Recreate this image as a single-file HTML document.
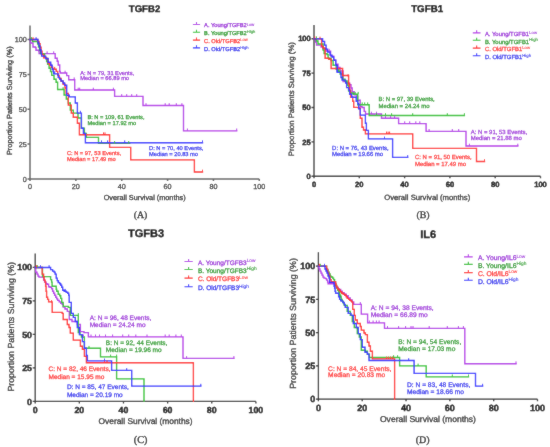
<!DOCTYPE html>
<html><head><meta charset="utf-8"><style>
html,body{margin:0;padding:0;background:#fff;}
svg{display:block;will-change:transform;}
svg text{font-family:"Liberation Sans",sans-serif;text-rendering:geometricPrecision;}
</style></head><body>
<svg width="550" height="447" viewBox="0 0 550 447">
<defs><filter id="bl" x="0" y="0" width="550" height="447" filterUnits="userSpaceOnUse"><feConvolveMatrix order="3" kernelMatrix="1 2 1 2 32.0 2 1 2 1" divisor="44.0" edgeMode="duplicate"/></filter></defs>
<rect width="550" height="447" fill="#fff"/>
<g filter="url(#bl)"><rect width="550" height="447" fill="#fff"/>
<path d="M30.0 25.5V179.0H259.3M30.00 179.0v2M75.86 179.0v2M121.72 179.0v2M167.58 179.0v2M213.44 179.0v2M259.30 179.0v2M30.0 179.00h-2.5M30.0 144.12h-2.5M30.0 109.25h-2.5M30.0 74.38h-2.5M30.0 39.50h-2.5" fill="none" stroke="#666" stroke-width="1.5"/>
<text x="30.00" y="188.60" font-size="7.2" fill="#333" text-anchor="middle" font-weight="normal" style="font-family:&quot;Liberation Sans&quot;"  stroke="#333" stroke-width="0.25">0</text>
<text x="75.86" y="188.60" font-size="7.2" fill="#333" text-anchor="middle" font-weight="normal" style="font-family:&quot;Liberation Sans&quot;"  stroke="#333" stroke-width="0.25">20</text>
<text x="121.72" y="188.60" font-size="7.2" fill="#333" text-anchor="middle" font-weight="normal" style="font-family:&quot;Liberation Sans&quot;"  stroke="#333" stroke-width="0.25">40</text>
<text x="167.58" y="188.60" font-size="7.2" fill="#333" text-anchor="middle" font-weight="normal" style="font-family:&quot;Liberation Sans&quot;"  stroke="#333" stroke-width="0.25">60</text>
<text x="213.44" y="188.60" font-size="7.2" fill="#333" text-anchor="middle" font-weight="normal" style="font-family:&quot;Liberation Sans&quot;"  stroke="#333" stroke-width="0.25">80</text>
<text x="259.30" y="188.60" font-size="7.2" fill="#333" text-anchor="middle" font-weight="normal" style="font-family:&quot;Liberation Sans&quot;"  stroke="#333" stroke-width="0.25">100</text>
<text x="26.80" y="181.59" font-size="7.2" fill="#333" text-anchor="end" font-weight="normal" style="font-family:&quot;Liberation Sans&quot;"  stroke="#333" stroke-width="0.25">0</text>
<text x="26.80" y="146.72" font-size="7.2" fill="#333" text-anchor="end" font-weight="normal" style="font-family:&quot;Liberation Sans&quot;"  stroke="#333" stroke-width="0.25">25</text>
<text x="26.80" y="111.84" font-size="7.2" fill="#333" text-anchor="end" font-weight="normal" style="font-family:&quot;Liberation Sans&quot;"  stroke="#333" stroke-width="0.25">50</text>
<text x="26.80" y="76.97" font-size="7.2" fill="#333" text-anchor="end" font-weight="normal" style="font-family:&quot;Liberation Sans&quot;"  stroke="#333" stroke-width="0.25">75</text>
<text x="26.80" y="42.09" font-size="7.2" fill="#333" text-anchor="end" font-weight="normal" style="font-family:&quot;Liberation Sans&quot;"  stroke="#333" stroke-width="0.25">100</text>
<text x="144.65" y="200.20" font-size="7.3" fill="#2a2a2a" text-anchor="middle" font-weight="normal" style="font-family:&quot;Liberation Sans&quot;"  stroke="#2a2a2a" stroke-width="0.28">Overall Survival (months)</text>
<text x="11.70" y="100.70" font-size="7.4" fill="#2a2a2a" text-anchor="middle" font-weight="normal" style="font-family:&quot;Liberation Sans&quot;" transform="rotate(-90 11.7 100.7)" stroke="#2a2a2a" stroke-width="0.28">Proportion Patients Surviving (%)</text>
<text x="144.50" y="12.20" font-size="9.6" fill="#000" text-anchor="middle" font-weight="bold" style="font-family:&quot;Liberation Sans&quot;"  stroke="#000" stroke-width="0.3">TGFB2</text>
<text x="140.50" y="217.70" font-size="9.9" fill="#1a1a1a" text-anchor="middle" font-weight="normal" style="font-family:&quot;Liberation Serif&quot;"  stroke="#1a1a1a" stroke-width="0.3">(A)</text>
<path d="M192.9 24.5H200.1M196.5 24.5V21.9" stroke="#b638e8" stroke-width="1.1" fill="none"/>
<text x="204.1" y="27.40" font-size="5.7" fill="#9b30d8" font-family="Liberation Sans" stroke="#9b30d8" stroke-width="0.28">A. Young/TGFB2<tspan font-size="4.10" dy="-1.80" stroke-width="0.1">Low</tspan></text>
<path d="M192.9 32.3H200.1M196.5 32.3V29.699999999999996" stroke="#2ec22e" stroke-width="1.1" fill="none"/>
<text x="204.1" y="35.20" font-size="5.7" fill="#2a9a2a" font-family="Liberation Sans" stroke="#2a9a2a" stroke-width="0.28">B. Young/TGFB2<tspan font-size="4.10" dy="-1.80" stroke-width="0.1">High</tspan></text>
<path d="M192.9 40.1H200.1M196.5 40.1V37.5" stroke="#ff2a2a" stroke-width="1.1" fill="none"/>
<text x="204.1" y="43.00" font-size="5.7" fill="#ff3030" font-family="Liberation Sans" stroke="#ff3030" stroke-width="0.28">C. Old/TGFB2<tspan font-size="4.10" dy="-1.80" stroke-width="0.1">Low</tspan></text>
<path d="M192.9 47.9H200.1M196.5 47.9V45.3" stroke="#3030ff" stroke-width="1.1" fill="none"/>
<text x="204.1" y="50.80" font-size="5.7" fill="#3030ee" font-family="Liberation Sans" stroke="#3030ee" stroke-width="0.28">D. Old/TGFB2<tspan font-size="4.10" dy="-1.80" stroke-width="0.1">High</tspan></text>
<path d="M30.0 39.5H30.5V43.0H33.0V47.0H35.5V47.6H36.0V50.2H38.6V50.7H39.1V53.6H55.2V58.2H57.2V61.2H58.2V65.0H59.7V71.3H60.2V73.0H66.7V75.6H68.7V79.7H74.7V90.0H114.6V96.4H143.0V105.5H183.5V130.8H236.7" fill="none" stroke="#b638e8" stroke-width="1.35" stroke-linejoin="miter" stroke-linecap="square"/>
<path d="M30.0 39.5H32.5V41.5H37.6V44.0H38.5V47.0H39.5V50.0H40.5V53.6H44.6V56.7H45.6V58.5H46.6V61.5H47.6V64.2H49.1V68.2H50.5V71.5H51.7V75.3H54.0V79.2H56.1V82.2H57.6V89.5H64.1V95.0H66.3V99.0H68.3V103.0H70.3V110.1H73.3V113.1H78.0V118.0H81.4V128.2H84.4V133.3H86.4V137.3H98.5V143.3H129.7" fill="none" stroke="#2ec22e" stroke-width="1.35" stroke-linejoin="miter" stroke-linecap="square"/>
<path d="M30.0 39.5H37.6V41.5H39.1V43.6H40.1V47.1H41.1V51.1H42.1V54.6H43.6V57.7H46.6V58.7H48.1V63.2H49.7V65.2H51.2V67.2H52.7V69.2H55.2H56.2V71.3H57.7V75.3H59.2V78.3H61.1V81.2H63.1V84.2H65.0V88.0H66.1V93.3H68.3V105.1H71.3V113.1H73.3V117.2H77.4V123.2H79.4V134.7H109.6V147.4H130.7V159.9H194.4V172.0H202.5" fill="none" stroke="#ff2a2a" stroke-width="1.35" stroke-linejoin="miter" stroke-linecap="square"/>
<path d="M30.0 39.5H37.1H38.0V43.0H39.0V46.0H40.0V50.0H41.1V53.6H41.6V56.1H44.1H45.6V58.5H48.1V62.2H50.7V65.2H52.2V69.2H53.2V71.3H53.7V73.8H57.2H58.2V77.3H59.7V79.3H61.0V81.0H63.0V83.0H64.6V85.2H66.7V95.3H69.2V96.8H75.3V103.0H77.4V113.1H81.4V128.2H83.4V133.3H85.4V142.7H202.5" fill="none" stroke="#3030ff" stroke-width="1.35" stroke-linejoin="miter" stroke-linecap="square"/>
<path d="M47.1 53.6V51.3M53.7 53.6V51.3M65.1 73.0V70.7M74.2 79.7V77.4M78.2 90.0V87.7M79.7 90.0V87.7M93.3 90.0V87.7M113.4 90.0V87.7M121.7 96.4V94.1M126.7 96.4V94.1M131.7 96.4V94.1M136.7 96.4V94.1M146.0 105.5V103.2M165.2 105.5V103.2M169.2 105.5V103.2M176.3 105.5V103.2M181.9 105.5V103.2M187.4 130.8V128.5M236.7 130.8V128.5" fill="none" stroke="#b638e8" stroke-width="1.0"/>
<path d="M31.5 39.5V37.2M63.1 89.5V87.2M101.5 143.3V141.0M114.6 143.3V141.0M128.7 143.3V141.0" fill="none" stroke="#2ec22e" stroke-width="1.0"/>
<path d="M33.0 39.5V37.2M54.7 69.2V66.9M103.5 134.7V132.4M105.0 134.7V132.4M202.5 172.0V169.7" fill="none" stroke="#ff2a2a" stroke-width="1.0"/>
<path d="M36.1 39.5V37.2M50.7 65.2V62.9M54.7 73.8V71.5M69.2 96.8V94.5M80.4 113.1V110.8M101.5 142.7V140.4M107.6 142.7V140.4M124.7 142.7V140.4M202.5 142.7V140.4" fill="none" stroke="#3030ff" stroke-width="1.0"/>
<text x="80.20" y="74.60" font-size="5.7" fill="#9b30d8" text-anchor="start" font-weight="normal" style="font-family:&quot;Liberation Sans&quot;"  stroke="#9b30d8" stroke-width="0.25">A: N = 79, 31 Events,</text>
<text x="80.20" y="80.30" font-size="5.7" fill="#9b30d8" text-anchor="start" font-weight="normal" style="font-family:&quot;Liberation Sans&quot;"  stroke="#9b30d8" stroke-width="0.25">Median = 66.89 mo</text>
<text x="87.40" y="118.80" font-size="5.7" fill="#2a9a2a" text-anchor="start" font-weight="normal" style="font-family:&quot;Liberation Sans&quot;"  stroke="#2a9a2a" stroke-width="0.25">B: N = 109, 61 Events,</text>
<text x="87.40" y="124.80" font-size="5.7" fill="#2a9a2a" text-anchor="start" font-weight="normal" style="font-family:&quot;Liberation Sans&quot;"  stroke="#2a9a2a" stroke-width="0.25">Median = 17.92 mo</text>
<text x="66.90" y="155.00" font-size="5.7" fill="#ff3030" text-anchor="start" font-weight="normal" style="font-family:&quot;Liberation Sans&quot;"  stroke="#ff3030" stroke-width="0.25">C: N = 97, 53 Events,</text>
<text x="66.90" y="161.00" font-size="5.7" fill="#ff3030" text-anchor="start" font-weight="normal" style="font-family:&quot;Liberation Sans&quot;"  stroke="#ff3030" stroke-width="0.25">Median = 17.49 mo</text>
<text x="149.10" y="150.40" font-size="5.7" fill="#3030ee" text-anchor="start" font-weight="normal" style="font-family:&quot;Liberation Sans&quot;"  stroke="#3030ee" stroke-width="0.25">D: N = 70, 40 Events,</text>
<text x="149.10" y="156.10" font-size="5.7" fill="#3030ee" text-anchor="start" font-weight="normal" style="font-family:&quot;Liberation Sans&quot;"  stroke="#3030ee" stroke-width="0.25">Median = 20.83 mo</text>
<path d="M314.0 25.1V176.2H540.5M314.00 176.2v2M359.30 176.2v2M404.60 176.2v2M449.90 176.2v2M495.20 176.2v2M540.50 176.2v2M314.0 176.20h-2.5M314.0 141.82h-2.5M314.0 107.45h-2.5M314.0 73.07h-2.5M314.0 38.70h-2.5" fill="none" stroke="#383838" stroke-width="1.35"/>
<text x="314.00" y="186.50" font-size="7.6" fill="#0a0a0a" text-anchor="middle" font-weight="bold" style="font-family:&quot;Liberation Sans&quot;"  stroke="#0a0a0a" stroke-width="0.38">0</text>
<text x="359.30" y="186.50" font-size="7.6" fill="#0a0a0a" text-anchor="middle" font-weight="bold" style="font-family:&quot;Liberation Sans&quot;"  stroke="#0a0a0a" stroke-width="0.38">20</text>
<text x="404.60" y="186.50" font-size="7.6" fill="#0a0a0a" text-anchor="middle" font-weight="bold" style="font-family:&quot;Liberation Sans&quot;"  stroke="#0a0a0a" stroke-width="0.38">40</text>
<text x="449.90" y="186.50" font-size="7.6" fill="#0a0a0a" text-anchor="middle" font-weight="bold" style="font-family:&quot;Liberation Sans&quot;"  stroke="#0a0a0a" stroke-width="0.38">60</text>
<text x="495.20" y="186.50" font-size="7.6" fill="#0a0a0a" text-anchor="middle" font-weight="bold" style="font-family:&quot;Liberation Sans&quot;"  stroke="#0a0a0a" stroke-width="0.38">80</text>
<text x="540.50" y="186.50" font-size="7.6" fill="#0a0a0a" text-anchor="middle" font-weight="bold" style="font-family:&quot;Liberation Sans&quot;"  stroke="#0a0a0a" stroke-width="0.38">100</text>
<text x="310.80" y="178.94" font-size="7.6" fill="#0a0a0a" text-anchor="end" font-weight="bold" style="font-family:&quot;Liberation Sans&quot;"  stroke="#0a0a0a" stroke-width="0.38">0</text>
<text x="310.80" y="144.56" font-size="7.6" fill="#0a0a0a" text-anchor="end" font-weight="bold" style="font-family:&quot;Liberation Sans&quot;"  stroke="#0a0a0a" stroke-width="0.38">25</text>
<text x="310.80" y="110.19" font-size="7.6" fill="#0a0a0a" text-anchor="end" font-weight="bold" style="font-family:&quot;Liberation Sans&quot;"  stroke="#0a0a0a" stroke-width="0.38">50</text>
<text x="310.80" y="75.81" font-size="7.6" fill="#0a0a0a" text-anchor="end" font-weight="bold" style="font-family:&quot;Liberation Sans&quot;"  stroke="#0a0a0a" stroke-width="0.38">75</text>
<text x="310.80" y="41.44" font-size="7.6" fill="#0a0a0a" text-anchor="end" font-weight="bold" style="font-family:&quot;Liberation Sans&quot;"  stroke="#0a0a0a" stroke-width="0.38">100</text>
<text x="427.25" y="200.40" font-size="7.66" fill="#2a2a2a" text-anchor="middle" font-weight="normal" style="font-family:&quot;Liberation Sans&quot;"  stroke="#2a2a2a" stroke-width="0.28">Overall Survival (months)</text>
<text x="294.50" y="99.20" font-size="7.75" fill="#2a2a2a" text-anchor="middle" font-weight="normal" style="font-family:&quot;Liberation Sans&quot;" transform="rotate(-90 294.5 99.2)" stroke="#2a2a2a" stroke-width="0.28">Proportion Patients Surviving (%)</text>
<text x="427.20" y="12.10" font-size="9.8" fill="#000" text-anchor="middle" font-weight="bold" style="font-family:&quot;Liberation Sans&quot;"  stroke="#000" stroke-width="0.3">TGFB1</text>
<text x="423.00" y="218.00" font-size="9.9" fill="#1a1a1a" text-anchor="middle" font-weight="normal" style="font-family:&quot;Liberation Serif&quot;"  stroke="#1a1a1a" stroke-width="0.3">(B)</text>
<path d="M472.8 32.9H480.5M476.65 32.9V30.299999999999997" stroke="#b638e8" stroke-width="1.1" fill="none"/>
<text x="484.9" y="36.10" font-size="5.9" fill="#9b30d8" font-family="Liberation Sans" stroke="#9b30d8" stroke-width="0.28">A. Young/TGFB1<tspan font-size="4.30" dy="-2.20" stroke-width="0.1">Low</tspan></text>
<path d="M472.8 40.3H480.5M476.65 40.3V37.699999999999996" stroke="#2ec22e" stroke-width="1.1" fill="none"/>
<text x="484.9" y="43.50" font-size="5.9" fill="#2a9a2a" font-family="Liberation Sans" stroke="#2a9a2a" stroke-width="0.28">B. Young/TGFB1<tspan font-size="4.30" dy="-2.20" stroke-width="0.1">High</tspan></text>
<path d="M472.8 48.1H480.5M476.65 48.1V45.5" stroke="#ff2a2a" stroke-width="1.1" fill="none"/>
<text x="484.9" y="51.30" font-size="5.9" fill="#ff3030" font-family="Liberation Sans" stroke="#ff3030" stroke-width="0.28">C. Old/TGFB1<tspan font-size="4.30" dy="-2.20" stroke-width="0.1">Low</tspan></text>
<path d="M472.8 55.8H480.5M476.65 55.8V53.199999999999996" stroke="#3030ff" stroke-width="1.1" fill="none"/>
<text x="484.9" y="59.00" font-size="5.9" fill="#3030ee" font-family="Liberation Sans" stroke="#3030ee" stroke-width="0.28">D. Old/TGFB1<tspan font-size="4.30" dy="-2.20" stroke-width="0.1">High</tspan></text>
<path d="M314.0 38.7H315.5V42.0H316.5V45.1H321.1V47.0H323.0V49.0H326.1V51.1H330.6V56.1H333.7V60.2H335.7V64.2H338.0V67.5H340.0V71.0H343.1V81.6H346.5V83.0H349.6V84.6H351.0V88.0H352.2V91.7H354.2V94.7H356.5V96.5H357.7V100.2H360.2V106.3H362.0V107.5H364.2V111.3H365.5V114.0H381.5V118.2H398.6V123.6H426.1V131.3H466.0V146.0H517.8" fill="none" stroke="#b638e8" stroke-width="1.35" stroke-linejoin="miter" stroke-linecap="square"/>
<path d="M314.0 38.7H316.5V41.0H318.0V44.0H321.5H323.1V50.1H324.1V53.6H327.0V54.5H328.1V58.2H331.0V60.5H333.1V65.2H336.2V69.2H338.7V71.3H340.1V74.0H342.6V79.1H345.0V81.0H347.1V85.1H348.6V91.1H350.5V93.0H353.2V94.2H357.7V104.7H369.2V115.5H464.4" fill="none" stroke="#2ec22e" stroke-width="1.35" stroke-linejoin="miter" stroke-linecap="square"/>
<path d="M314.0 38.7H321.6V39.0V46.1H323.0V48.0H325.1V58.2H328.6V59.2H331.1V68.5H342.6V75.5H348.6V76.5V84.0H349.6V90.1H350.6V97.2H352.7V101.2H353.7V107.3H358.2V107.8H360.3V118.2H362.0V127.2H363.5V130.0H365.4V133.9H412.7V148.4H476.5V161.5H484.5" fill="none" stroke="#ff2a2a" stroke-width="1.35" stroke-linejoin="miter" stroke-linecap="square"/>
<path d="M314.0 38.7H322.6V41.5H324.6V45.1H326.1V49.1H327.6V52.1H330.1V55.1H332.0V57.0H333.7V60.2H335.7V65.2H337.2V72.3H341.0V77.5H342.1V80.1H345.6V83.1H346.6V87.6H348.6V90.1H349.6V94.2H351.7V97.2H356.2V101.2H357.7V103.7H358.7V108.8H360.3V115.1H365.4V123.2H366.4V130.3H368.4V138.9H392.6V157.4H407.7" fill="none" stroke="#3030ff" stroke-width="1.35" stroke-linejoin="miter" stroke-linecap="square"/>
<path d="M329.1 51.1V48.8M371.4 114.0V111.7M376.5 114.0V111.7M385.5 118.2V115.9M390.6 118.2V115.9M394.6 118.2V115.9M404.7 123.6V121.3M409.7 123.6V121.3M415.8 123.6V121.3M419.8 123.6V121.3M429.1 131.3V129.0M452.3 131.3V129.0M458.7 131.3V129.0M469.4 146.0V143.7M517.8 146.0V143.7" fill="none" stroke="#b638e8" stroke-width="1.0"/>
<path d="M316.5 38.7V36.4M355.2 94.2V91.9M358.2 94.2V91.9M362.2 104.7V102.4M364.7 104.7V102.4M367.7 104.7V102.4M376.5 115.5V113.2M385.5 115.5V113.2M391.6 115.5V113.2M412.7 115.5V113.2M447.3 115.5V113.2M464.4 115.5V113.2" fill="none" stroke="#2ec22e" stroke-width="1.0"/>
<path d="M314.8 38.7V36.4M320.0 39.0V36.7M348.1 76.5V74.2M386.5 133.9V131.6M388.1 133.9V131.6M389.6 133.9V131.6M484.5 161.5V159.2" fill="none" stroke="#ff2a2a" stroke-width="1.0"/>
<path d="M337.0 72.3V70.0M384.5 138.9V136.6M407.7 157.4V155.1" fill="none" stroke="#3030ff" stroke-width="1.0"/>
<text x="378.50" y="101.20" font-size="5.95" fill="#2a9a2a" text-anchor="start" font-weight="normal" style="font-family:&quot;Liberation Sans&quot;"  stroke="#2a9a2a" stroke-width="0.25">B: N = 97, 39 Events,</text>
<text x="378.50" y="107.80" font-size="5.95" fill="#2a9a2a" text-anchor="start" font-weight="normal" style="font-family:&quot;Liberation Sans&quot;"  stroke="#2a9a2a" stroke-width="0.25">Median = 24.24 mo</text>
<text x="470.80" y="133.60" font-size="5.95" fill="#9b30d8" text-anchor="start" font-weight="normal" style="font-family:&quot;Liberation Sans&quot;"  stroke="#9b30d8" stroke-width="0.25">A: N = 91, 53 Events,</text>
<text x="470.80" y="140.20" font-size="5.95" fill="#9b30d8" text-anchor="start" font-weight="normal" style="font-family:&quot;Liberation Sans&quot;"  stroke="#9b30d8" stroke-width="0.25">Median = 21.88 mo</text>
<text x="332.10" y="149.60" font-size="5.95" fill="#3030ee" text-anchor="start" font-weight="normal" style="font-family:&quot;Liberation Sans&quot;"  stroke="#3030ee" stroke-width="0.25">D: N = 76, 43 Events,</text>
<text x="332.10" y="156.10" font-size="5.95" fill="#3030ee" text-anchor="start" font-weight="normal" style="font-family:&quot;Liberation Sans&quot;"  stroke="#3030ee" stroke-width="0.25">Median = 19.66 mo</text>
<text x="415.00" y="158.80" font-size="5.95" fill="#ff3030" text-anchor="start" font-weight="normal" style="font-family:&quot;Liberation Sans&quot;"  stroke="#ff3030" stroke-width="0.25">C: N = 91, 50 Events,</text>
<text x="415.00" y="165.80" font-size="5.95" fill="#ff3030" text-anchor="start" font-weight="normal" style="font-family:&quot;Liberation Sans&quot;"  stroke="#ff3030" stroke-width="0.25">Median = 17.49 mo</text>
<path d="M35.2 253.4V401.4H255.9M35.20 401.4v2M79.34 401.4v2M123.48 401.4v2M167.62 401.4v2M211.76 401.4v2M255.90 401.4v2M35.2 401.40h-2.5M35.2 367.88h-2.5M35.2 334.35h-2.5M35.2 300.82h-2.5M35.2 267.30h-2.5" fill="none" stroke="#333" stroke-width="1.3"/>
<text x="35.20" y="412.60" font-size="8.8" fill="#0a0a0a" text-anchor="middle" font-weight="bold" style="font-family:&quot;Liberation Sans&quot;"  stroke="#0a0a0a" stroke-width="0.38">0</text>
<text x="79.34" y="412.60" font-size="8.8" fill="#0a0a0a" text-anchor="middle" font-weight="bold" style="font-family:&quot;Liberation Sans&quot;"  stroke="#0a0a0a" stroke-width="0.38">20</text>
<text x="123.48" y="412.60" font-size="8.8" fill="#0a0a0a" text-anchor="middle" font-weight="bold" style="font-family:&quot;Liberation Sans&quot;"  stroke="#0a0a0a" stroke-width="0.38">40</text>
<text x="167.62" y="412.60" font-size="8.8" fill="#0a0a0a" text-anchor="middle" font-weight="bold" style="font-family:&quot;Liberation Sans&quot;"  stroke="#0a0a0a" stroke-width="0.38">60</text>
<text x="211.76" y="412.60" font-size="8.8" fill="#0a0a0a" text-anchor="middle" font-weight="bold" style="font-family:&quot;Liberation Sans&quot;"  stroke="#0a0a0a" stroke-width="0.38">80</text>
<text x="255.90" y="412.60" font-size="8.8" fill="#0a0a0a" text-anchor="middle" font-weight="bold" style="font-family:&quot;Liberation Sans&quot;"  stroke="#0a0a0a" stroke-width="0.38">100</text>
<text x="32.00" y="404.57" font-size="8.8" fill="#0a0a0a" text-anchor="end" font-weight="bold" style="font-family:&quot;Liberation Sans&quot;"  stroke="#0a0a0a" stroke-width="0.38">0</text>
<text x="32.00" y="371.04" font-size="8.8" fill="#0a0a0a" text-anchor="end" font-weight="bold" style="font-family:&quot;Liberation Sans&quot;"  stroke="#0a0a0a" stroke-width="0.38">25</text>
<text x="32.00" y="337.52" font-size="8.8" fill="#0a0a0a" text-anchor="end" font-weight="bold" style="font-family:&quot;Liberation Sans&quot;"  stroke="#0a0a0a" stroke-width="0.38">50</text>
<text x="32.00" y="303.99" font-size="8.8" fill="#0a0a0a" text-anchor="end" font-weight="bold" style="font-family:&quot;Liberation Sans&quot;"  stroke="#0a0a0a" stroke-width="0.38">75</text>
<text x="32.00" y="270.47" font-size="8.8" fill="#0a0a0a" text-anchor="end" font-weight="bold" style="font-family:&quot;Liberation Sans&quot;"  stroke="#0a0a0a" stroke-width="0.38">100</text>
<text x="145.55" y="423.60" font-size="8.4" fill="#2a2a2a" text-anchor="middle" font-weight="normal" style="font-family:&quot;Liberation Sans&quot;"  stroke="#2a2a2a" stroke-width="0.28">Overall Survival (months)</text>
<text x="13.60" y="326.80" font-size="8.8" fill="#2a2a2a" text-anchor="middle" font-weight="normal" style="font-family:&quot;Liberation Sans&quot;" transform="rotate(-90 13.6 326.8)" stroke="#2a2a2a" stroke-width="0.28">Proportion Patients Surviving (%)</text>
<text x="146.00" y="236.70" font-size="11.0" fill="#000" text-anchor="middle" font-weight="bold" style="font-family:&quot;Liberation Sans&quot;"  stroke="#000" stroke-width="0.3">TGFB3</text>
<text x="140.60" y="443.00" font-size="10.3" fill="#1a1a1a" text-anchor="middle" font-weight="normal" style="font-family:&quot;Liberation Serif&quot;"  stroke="#1a1a1a" stroke-width="0.3">(C)</text>
<path d="M184.5 261.5H192.7M188.6 261.5V258.9" stroke="#b638e8" stroke-width="1.1" fill="none"/>
<text x="197.9" y="264.80" font-size="6.5" fill="#9b30d8" font-family="Liberation Sans" stroke="#9b30d8" stroke-width="0.28">A. Young/TGFB3<tspan font-size="4.80" dy="-2.40" stroke-width="0.1">Low</tspan></text>
<path d="M184.5 269.5H192.7M188.6 269.5V266.9" stroke="#2ec22e" stroke-width="1.1" fill="none"/>
<text x="197.9" y="272.80" font-size="6.5" fill="#2a9a2a" font-family="Liberation Sans" stroke="#2a9a2a" stroke-width="0.28">B. Young/TGFB3<tspan font-size="4.80" dy="-2.40" stroke-width="0.1">High</tspan></text>
<path d="M184.5 278.1H192.7M188.6 278.1V275.5" stroke="#ff2a2a" stroke-width="1.1" fill="none"/>
<text x="197.9" y="281.40" font-size="6.5" fill="#ff3030" font-family="Liberation Sans" stroke="#ff3030" stroke-width="0.28">C. Old/TGFB3<tspan font-size="4.80" dy="-2.40" stroke-width="0.1">Low</tspan></text>
<path d="M184.5 286.8H192.7M188.6 286.8V284.2" stroke="#3030ff" stroke-width="1.1" fill="none"/>
<text x="197.9" y="290.10" font-size="6.5" fill="#3030ee" font-family="Liberation Sans" stroke="#3030ee" stroke-width="0.28">D. Old/TGFB3<tspan font-size="4.80" dy="-2.40" stroke-width="0.1">High</tspan></text>
<path d="M35.2 267.5H35.7V272.1H37.0V274.1H38.0V276.1H39.0V277.1H43.6V280.1H44.6V282.1H46.1V283.7H47.1V284.2H48.6V286.7H50.1V287.2H51.6V288.7H52.6V291.2H53.6V293.2H54.6V295.2H55.7V297.2H56.7V298.8H57.7V300.3H59.2V301.8H60.7V303.3H62.2V304.3H63.2V307.0H65.0V309.0H67.3V311.4H69.3V319.5H72.0V321.5H77.3V324.5H80.4V331.6H84.0V332.6H88.4V336.8H183.0V358.4H233.9" fill="none" stroke="#b638e8" stroke-width="1.35" stroke-linejoin="miter" stroke-linecap="square"/>
<path d="M35.2 267.5H42.5V276.6H50.6V279.6H51.6V282.1H52.1V286.2H56.2V289.2H56.7V291.2H58.2V294.2H59.7V295.7H60.7V298.3H61.7V302.3H63.2V306.4H68.3V307.4H70.3V315.4H78.3V332.6H80.0V334.6H81.4V337.0H84.4V348.2H100.5V356.9H116.6V378.8H144.0V401.4" fill="none" stroke="#2ec22e" stroke-width="1.35" stroke-linejoin="miter" stroke-linecap="square"/>
<path d="M35.2 267.5H42.2V274.1H43.6V277.1H44.1V280.1H45.1V282.1H45.6V286.2H46.1V291.2H46.6V297.2H47.6V299.3H48.6V301.8H52.1V302.3H52.2V312.4H62.2V313.4H63.2V319.5H67.3V324.5H69.0V327.5H70.3V333.1H73.3V340.1H80.4V346.2H82.4V349.2H84.4V356.3H86.4V362.7H193.4V401.4" fill="none" stroke="#ff2a2a" stroke-width="1.35" stroke-linejoin="miter" stroke-linecap="square"/>
<path d="M35.2 267.5H50.6V269.6H52.6V271.1H54.1V272.1H55.1V274.1H56.2V278.1H57.2V280.6H58.2V282.6H59.7V283.7H60.7V285.2H61.7V287.2H62.7V290.2H64.2V291.2H66.2V292.2H67.7V293.2H68.7V295.2H69.2V302.3H71.3V313.4H73.3V317.4H75.3V321.5H77.3V327.5H79.4V334.6H82.4V341.6H84.4V348.2H86.4V355.3H87.4V360.9H111.6V370.4H131.7V386.1H200.8" fill="none" stroke="#3030ff" stroke-width="1.35" stroke-linejoin="miter" stroke-linecap="square"/>
<path d="M83.4 336.8V334.5M88.4 336.8V334.5M91.0 336.8V334.5M95.5 336.8V334.5M99.5 336.8V334.5M105.5 336.8V334.5M112.6 336.8V334.5M122.7 336.8V334.5M128.7 336.8V334.5M135.8 336.8V334.5M147.0 336.8V334.5M165.2 336.8V334.5M169.2 336.8V334.5M175.9 336.8V334.5M181.3 336.8V334.5M186.6 358.4V356.1M233.9 358.4V356.1" fill="none" stroke="#b638e8" stroke-width="1.0"/>
<path d="M37.5 267.5V265.2M78.3 315.4V313.1M89.0 348.2V345.9M110.6 356.9V354.6M116.6 356.9V354.6" fill="none" stroke="#2ec22e" stroke-width="1.0"/>
<path d="M36.5 267.5V265.2M51.6 302.3V300.0M104.5 362.7V360.4M107.0 362.7V360.4" fill="none" stroke="#ff2a2a" stroke-width="1.0"/>
<path d="M40.5 267.5V265.2M49.1 267.5V265.2M58.7 282.6V280.3M65.2 291.2V288.9M104.5 360.9V358.6M126.7 370.4V368.1M200.8 386.1V383.8" fill="none" stroke="#3030ff" stroke-width="1.0"/>
<text x="89.70" y="320.30" font-size="6.5" fill="#9b30d8" text-anchor="start" font-weight="normal" style="font-family:&quot;Liberation Sans&quot;"  stroke="#9b30d8" stroke-width="0.25">A: N = 96, 48 Events,</text>
<text x="89.70" y="327.20" font-size="6.5" fill="#9b30d8" text-anchor="start" font-weight="normal" style="font-family:&quot;Liberation Sans&quot;"  stroke="#9b30d8" stroke-width="0.25">Median = 24.24 mo</text>
<text x="105.80" y="344.80" font-size="6.5" fill="#2a9a2a" text-anchor="start" font-weight="normal" style="font-family:&quot;Liberation Sans&quot;"  stroke="#2a9a2a" stroke-width="0.25">B: N = 92, 44 Events,</text>
<text x="105.80" y="351.90" font-size="6.5" fill="#2a9a2a" text-anchor="start" font-weight="normal" style="font-family:&quot;Liberation Sans&quot;"  stroke="#2a9a2a" stroke-width="0.25">Median = 19.96 mo</text>
<text x="48.50" y="371.40" font-size="6.5" fill="#ff3030" text-anchor="start" font-weight="normal" style="font-family:&quot;Liberation Sans&quot;"  stroke="#ff3030" stroke-width="0.25">C: N = 82, 46 Events,</text>
<text x="48.50" y="378.90" font-size="6.5" fill="#ff3030" text-anchor="start" font-weight="normal" style="font-family:&quot;Liberation Sans&quot;"  stroke="#ff3030" stroke-width="0.25">Median = 15.95 mo</text>
<text x="66.90" y="389.10" font-size="6.5" fill="#3030ee" text-anchor="start" font-weight="normal" style="font-family:&quot;Liberation Sans&quot;"  stroke="#3030ee" stroke-width="0.25">D: N = 85, 47 Events,</text>
<text x="66.90" y="396.60" font-size="6.5" fill="#3030ee" text-anchor="start" font-weight="normal" style="font-family:&quot;Liberation Sans&quot;"  stroke="#3030ee" stroke-width="0.25">Median = 20.19 mo</text>
<path d="M318.4 252.3V399.2H537.5M318.40 399.2v2M362.22 399.2v2M406.04 399.2v2M449.86 399.2v2M493.68 399.2v2M537.50 399.2v2M318.4 399.20h-2.5M318.4 365.95h-2.5M318.4 332.70h-2.5M318.4 299.45h-2.5M318.4 266.20h-2.5" fill="none" stroke="#2a2a2a" stroke-width="1.3"/>
<text x="318.40" y="411.00" font-size="9.0" fill="#0a0a0a" text-anchor="middle" font-weight="bold" style="font-family:&quot;Liberation Sans&quot;"  stroke="#0a0a0a" stroke-width="0.38">0</text>
<text x="362.22" y="411.00" font-size="9.0" fill="#0a0a0a" text-anchor="middle" font-weight="bold" style="font-family:&quot;Liberation Sans&quot;"  stroke="#0a0a0a" stroke-width="0.38">20</text>
<text x="406.04" y="411.00" font-size="9.0" fill="#0a0a0a" text-anchor="middle" font-weight="bold" style="font-family:&quot;Liberation Sans&quot;"  stroke="#0a0a0a" stroke-width="0.38">40</text>
<text x="449.86" y="411.00" font-size="9.0" fill="#0a0a0a" text-anchor="middle" font-weight="bold" style="font-family:&quot;Liberation Sans&quot;"  stroke="#0a0a0a" stroke-width="0.38">60</text>
<text x="493.68" y="411.00" font-size="9.0" fill="#0a0a0a" text-anchor="middle" font-weight="bold" style="font-family:&quot;Liberation Sans&quot;"  stroke="#0a0a0a" stroke-width="0.38">80</text>
<text x="537.50" y="411.00" font-size="9.0" fill="#0a0a0a" text-anchor="middle" font-weight="bold" style="font-family:&quot;Liberation Sans&quot;"  stroke="#0a0a0a" stroke-width="0.38">100</text>
<text x="315.20" y="402.44" font-size="9.0" fill="#0a0a0a" text-anchor="end" font-weight="bold" style="font-family:&quot;Liberation Sans&quot;"  stroke="#0a0a0a" stroke-width="0.38">0</text>
<text x="315.20" y="369.19" font-size="9.0" fill="#0a0a0a" text-anchor="end" font-weight="bold" style="font-family:&quot;Liberation Sans&quot;"  stroke="#0a0a0a" stroke-width="0.38">25</text>
<text x="315.20" y="335.94" font-size="9.0" fill="#0a0a0a" text-anchor="end" font-weight="bold" style="font-family:&quot;Liberation Sans&quot;"  stroke="#0a0a0a" stroke-width="0.38">50</text>
<text x="315.20" y="302.69" font-size="9.0" fill="#0a0a0a" text-anchor="end" font-weight="bold" style="font-family:&quot;Liberation Sans&quot;"  stroke="#0a0a0a" stroke-width="0.38">75</text>
<text x="315.20" y="269.44" font-size="9.0" fill="#0a0a0a" text-anchor="end" font-weight="bold" style="font-family:&quot;Liberation Sans&quot;"  stroke="#0a0a0a" stroke-width="0.38">100</text>
<text x="427.95" y="422.00" font-size="8.55" fill="#2a2a2a" text-anchor="middle" font-weight="normal" style="font-family:&quot;Liberation Sans&quot;"  stroke="#2a2a2a" stroke-width="0.28">Overall Survival (months)</text>
<text x="296.40" y="323.50" font-size="8.9" fill="#2a2a2a" text-anchor="middle" font-weight="normal" style="font-family:&quot;Liberation Sans&quot;" transform="rotate(-90 296.4 323.5)" stroke="#2a2a2a" stroke-width="0.28">Proportion Patients Surviving (%)</text>
<text x="428.20" y="238.30" font-size="11.0" fill="#000" text-anchor="middle" font-weight="bold" style="font-family:&quot;Liberation Sans&quot;"  stroke="#000" stroke-width="0.3">IL6</text>
<text x="422.60" y="443.00" font-size="10.0" fill="#1a1a1a" text-anchor="middle" font-weight="normal" style="font-family:&quot;Liberation Serif&quot;"  stroke="#1a1a1a" stroke-width="0.3">(D)</text>
<path d="M464.0 256.9H472.7M468.35 256.9V254.29999999999998" stroke="#b638e8" stroke-width="1.1" fill="none"/>
<text x="477.9" y="260.10" font-size="6.8" fill="#9b30d8" font-family="Liberation Sans" stroke="#9b30d8" stroke-width="0.28">A. Young/IL6<tspan font-size="4.80" dy="-2.40" stroke-width="0.1">Low</tspan></text>
<path d="M464.0 264.4H472.7M468.35 264.4V261.79999999999995" stroke="#2ec22e" stroke-width="1.1" fill="none"/>
<text x="477.9" y="267.60" font-size="6.8" fill="#2a9a2a" font-family="Liberation Sans" stroke="#2a9a2a" stroke-width="0.28">B. Young/IL6<tspan font-size="4.80" dy="-2.40" stroke-width="0.1">High</tspan></text>
<path d="M464.0 272.6H472.7M468.35 272.6V270.0" stroke="#ff2a2a" stroke-width="1.1" fill="none"/>
<text x="477.9" y="275.80" font-size="6.8" fill="#ff3030" font-family="Liberation Sans" stroke="#ff3030" stroke-width="0.28">C. Old/IL6<tspan font-size="4.80" dy="-2.40" stroke-width="0.1">Low</tspan></text>
<path d="M464.0 280.3H472.7M468.35 280.3V277.7" stroke="#3030ff" stroke-width="1.1" fill="none"/>
<text x="477.9" y="283.50" font-size="6.8" fill="#3030ee" font-family="Liberation Sans" stroke="#3030ee" stroke-width="0.28">D. Old/IL6<tspan font-size="4.80" dy="-2.40" stroke-width="0.1">High</tspan></text>
<path d="M318.4 266.1V267.0H319.0V269.0H320.0V271.1H321.0V273.1H322.0V275.1H323.0V277.1H324.0V278.1H325.6V278.6H326.6V280.1H327.6V282.1H328.1V283.7H334.6V285.2H336.1V287.2H338.1V288.7H339.1V289.5H340.7V291.2H342.2V292.7H344.2V294.2H346.2V295.7H348.2V297.8H350.2V299.8H352.2V301.8H353.7V304.3H361.3V314.1H367.6V322.8H384.5V328.3H464.8V363.7H516.0" fill="none" stroke="#b638e8" stroke-width="1.35" stroke-linejoin="miter" stroke-linecap="square"/>
<path d="M318.4 266.1H326.1H326.6V270.0H328.1V272.1H329.1V274.0H330.1V276.1H331.1V277.0H332.6V278.1H333.6V279.6H334.6V282.1H335.6V285.2H336.6V288.0H337.6V290.2H338.6V292.0H339.7V295.2H340.7V297.0H341.2V299.3H342.2V301.3H343.2V303.0H344.2V305.4H347.2V311.4H350.3V315.4H352.3V321.5H354.3V327.5H357.3V333.6H359.3V337.0H361.3V350.2H365.4V351.2H367.4V354.2H369.4V357.5H399.6V365.9H426.2V376.8H468.5" fill="none" stroke="#2ec22e" stroke-width="1.35" stroke-linejoin="miter" stroke-linecap="square"/>
<path d="M318.4 266.1H326.6V269.0H327.6V272.1H328.6V275.1H329.6V277.1H330.1V279.6H331.1V281.6H335.6V283.7H336.1V286.2H337.1V288.2H338.1V289.2H339.1V290.2H340.2V291.7H341.7V293.2H343.2V294.2H344.7V295.2H346.2V296.7H347.2V298.3H348.7V299.3H349.7V300.3H351.2V301.3H352.2V302.3H352.7V309.4H354.3V315.4H355.3V320.0H357.3V323.5H360.3V326.5H361.3V330.1H364.0V333.0H365.4V334.6H367.4V342.2H369.0V346.0H370.4V351.2H372.4V358.9H394.6V399.2" fill="none" stroke="#ff2a2a" stroke-width="1.35" stroke-linejoin="miter" stroke-linecap="square"/>
<path d="M318.4 266.1H325.0V269.0H326.0V271.0H327.0V273.0H328.0V276.0H329.0V278.0H329.6V282.4H334.1V286.2H334.6V288.2H335.1V291.2H335.6V293.2H338.6V296.7H339.6V299.3H340.7V300.8H342.7V302.3H344.2V304.3H345.2V307.4H348.2V313.4H351.0V315.4H353.3V323.5H356.3V327.5H358.3V333.6H360.3V339.6H362.3V347.2H365.0V352.2H367.4V354.2H369.0V360.5H414.1V373.4H475.5V386.1H482.6" fill="none" stroke="#3030ff" stroke-width="1.35" stroke-linejoin="miter" stroke-linecap="square"/>
<path d="M360.3 304.3V302.0M369.3 322.8V320.5M373.1 322.8V320.5M376.4 322.8V320.5M379.1 322.8V320.5M387.5 328.3V326.0M398.6 328.3V326.0M405.6 328.3V326.0M411.0 328.3V326.0M413.0 328.3V326.0M429.2 328.3V326.0M447.3 328.3V326.0M458.4 328.3V326.0M463.4 328.3V326.0M516.0 363.7V361.4" fill="none" stroke="#b638e8" stroke-width="1.0"/>
<path d="M320.4 266.1V263.8M393.6 357.5V355.2M397.6 357.5V355.2M418.1 365.9V363.6M452.3 376.8V374.5M468.5 376.8V374.5" fill="none" stroke="#2ec22e" stroke-width="1.0"/>
<path d="M319.4 266.1V263.8M386.5 358.9V356.6M388.5 358.9V356.6M390.5 358.9V356.6M392.6 358.9V356.6" fill="none" stroke="#ff2a2a" stroke-width="1.0"/>
<path d="M324.5 266.1V263.8M408.7 360.5V358.2M482.6 386.1V383.8" fill="none" stroke="#3030ff" stroke-width="1.0"/>
<text x="370.70" y="309.60" font-size="6.65" fill="#9b30d8" text-anchor="start" font-weight="normal" style="font-family:&quot;Liberation Sans&quot;"  stroke="#9b30d8" stroke-width="0.25">A: N = 94, 38 Events,</text>
<text x="370.70" y="316.90" font-size="6.65" fill="#9b30d8" text-anchor="start" font-weight="normal" style="font-family:&quot;Liberation Sans&quot;"  stroke="#9b30d8" stroke-width="0.25">Median = 66.89 mo</text>
<text x="398.30" y="343.90" font-size="6.65" fill="#2a9a2a" text-anchor="start" font-weight="normal" style="font-family:&quot;Liberation Sans&quot;"  stroke="#2a9a2a" stroke-width="0.25">B: N = 94, 54 Events,</text>
<text x="398.30" y="350.50" font-size="6.65" fill="#2a9a2a" text-anchor="start" font-weight="normal" style="font-family:&quot;Liberation Sans&quot;"  stroke="#2a9a2a" stroke-width="0.25">Median = 17.03 mo</text>
<text x="328.10" y="370.60" font-size="6.65" fill="#ff3030" text-anchor="start" font-weight="normal" style="font-family:&quot;Liberation Sans&quot;"  stroke="#ff3030" stroke-width="0.25">C: N = 84, 45 Events,</text>
<text x="328.10" y="377.40" font-size="6.65" fill="#ff3030" text-anchor="start" font-weight="normal" style="font-family:&quot;Liberation Sans&quot;"  stroke="#ff3030" stroke-width="0.25">Median = 20.83 mo</text>
<text x="407.00" y="387.10" font-size="6.65" fill="#3030ee" text-anchor="start" font-weight="normal" style="font-family:&quot;Liberation Sans&quot;"  stroke="#3030ee" stroke-width="0.25">D: N = 83, 48 Events,</text>
<text x="407.00" y="394.10" font-size="6.65" fill="#3030ee" text-anchor="start" font-weight="normal" style="font-family:&quot;Liberation Sans&quot;"  stroke="#3030ee" stroke-width="0.25">Median = 18.66 mo</text>
</g>
</svg>
</body></html>
